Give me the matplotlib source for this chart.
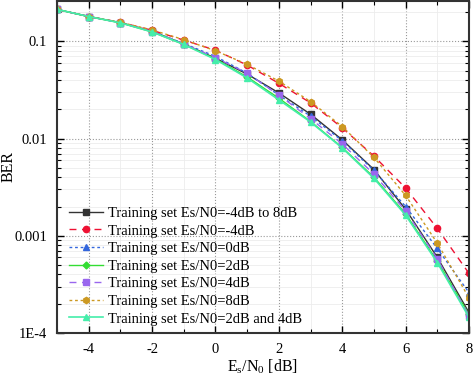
import numpy as np
import matplotlib
matplotlib.use('Agg')
import matplotlib.pyplot as plt
from matplotlib.ticker import MultipleLocator, LogLocator, NullFormatter

plt.rcParams['font.family'] = 'Liberation Serif'
plt.rcParams['mathtext.fontset'] = 'custom'
plt.rcParams['mathtext.rm'] = 'Liberation Serif'
plt.rcParams['axes.unicode_minus'] = False

snr = [-5, -4, -3, -2, -1, 0, 1, 2, 3, 4, 5, 6, 7, 8]

ber_all = [0.213, 0.18, 0.156, 0.127, 0.094, 0.067, 0.046, 0.0295, 0.0178, 0.0097, 0.0048, 0.00187, 0.00060, 0.000162]
ber_m4 = [0.213, 0.18, 0.157, 0.13, 0.103, 0.081, 0.057, 0.037, 0.0233, 0.0129, 0.0066, 0.0031, 0.00119, 0.00041]
ber_0 = [0.213, 0.18, 0.156, 0.127, 0.095, 0.070, 0.047, 0.028, 0.017, 0.0095, 0.0047, 0.0020, 0.00074, 0.00026]
ber_2 = [0.213, 0.18, 0.155, 0.125, 0.093, 0.066, 0.043, 0.026, 0.015, 0.0081, 0.0040, 0.00168, 0.00055, 0.000155]
ber_4 = [0.213, 0.18, 0.155, 0.126, 0.094, 0.068, 0.047, 0.028, 0.016, 0.0088, 0.0043, 0.0018, 0.00058, 0.00015]
ber_8 = [0.213, 0.18, 0.157, 0.131, 0.104, 0.080, 0.058, 0.039, 0.024, 0.0133, 0.0064, 0.0026, 0.00084, 0.00023]
ber_24 = [0.213, 0.18, 0.155, 0.125, 0.093, 0.065, 0.042, 0.025, 0.0148, 0.0080, 0.0039, 0.00163, 0.00053, 0.000145]

labels = ['Training set Es/N0=-4dB to 8dB',
          'Training set Es/N0=-4dB',
          'Training set Es/N0=0dB',
          'Training set Es/N0=2dB',
          'Training set Es/N0=4dB',
          'Training set Es/N0=8dB',
          'Training set Es/N0=2dB and 4dB']

fig = plt.figure(figsize=(4.74, 3.77), dpi=100)
ax = fig.add_axes([57/474, 44/377, 412/474, 332/377])

ax.plot(snr, ber_all, color='#333333', ls='-', marker='s', ms=4, lw=1.0, label=labels[0])
ax.plot(snr, ber_m4, color='#ee1133', ls=(0, (5, 4)), marker='o', ms=4.5, lw=1.0, label=labels[1])
ax.plot(snr, ber_0, color='#3366dd', ls=(0, (2, 2)), marker='^', ms=4.5, lw=1.0, label=labels[2])
ax.plot(snr, ber_2, color='#33dd33', ls='-', marker='D', ms=3.5, lw=1.0, label=labels[3])
ax.plot(snr, ber_4, color='#9966ee', ls=(0, (5, 4)), marker='s', ms=4, lw=1.0, label=labels[4])
ax.plot(snr, ber_8, color='#cc9922', ls=(0, (2, 2)), marker='h', ms=4.5, lw=1.0, label=labels[5])
ax.plot(snr, ber_24, color='#44eeaa', ls='-', marker='^', ms=4, lw=1.2, label=labels[6])

ax.set_yscale('log')
ax.set_xlim(-5, 8)
ax.set_ylim(1e-4, 0.26)
ax.set_yticks([0.1, 0.01, 0.001, 1e-4])
ax.set_yticklabels(['0.1', '0.01', '0.001', '1E-4'])
ax.yaxis.set_minor_locator(LogLocator(base=10, subs=np.arange(2, 10)))
ax.yaxis.set_minor_formatter(NullFormatter())
ax.set_xticks([-4, -2, 0, 2, 4, 6, 8])
ax.xaxis.set_minor_locator(MultipleLocator(1))

ax.tick_params(which='both', direction='in', top=True, right=True, labelsize=10.5)
ax.tick_params(which='major', length=5, width=1, pad=7)
ax.tick_params(which='minor', length=3, width=0.8)

ax.grid(which='major', color='#999999', ls=':', lw=0.8)
ax.grid(which='minor', color='#ececec', ls='-', lw=0.6)
ax.set_axisbelow(True)

for s in ax.spines.values():
    s.set_linewidth(1.5)
    s.set_color('#333333')

ax.set_xlabel(r'E$_\mathrm{s}$/N$_\mathrm{0}$ [dB]', fontsize=11.5)
ax.xaxis.set_label_coords(0.5, -0.072)
ax.set_ylabel('BER', fontsize=11.5)
ax.yaxis.set_label_coords(-0.098, 0.5)

ax.legend(loc='lower left', bbox_to_anchor=(0.015, 0.005), frameon=False, fontsize=10.5,
          handlelength=2.3, handletextpad=0.4, labelspacing=0.3, borderaxespad=0.0)

fig.savefig('out.png', dpi=100)
